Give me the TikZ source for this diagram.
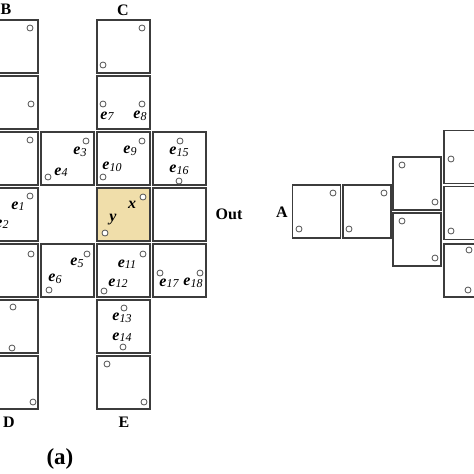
\documentclass[tikz,border=0pt]{standalone}
\usepackage{fontspec}
\setmainfont{Liberation Serif}
\definecolor{cellyellow}{RGB}{240,222,170}
\definecolor{edgegray}{RGB}{60,60,60}
\definecolor{dotgray}{RGB}{80,80,80}
\newcommand\elab[1]{{\bfseries\itshape e}\raisebox{-1.5pt}{\fontsize{12}{12}\selectfont\itshape #1}}
\tikzset{
  cell/.style={draw=edgegray, line width=1.2pt, fill=white, minimum width=53pt, minimum height=53pt, inner sep=0pt},
  rcell/.style={cell, minimum width=48pt},
  dotc/.style={circle, draw=dotgray, line width=0.8pt, fill=white, minimum size=6pt, inner sep=0pt},
  elbl/.style={inner sep=0pt, font=\fontsize{16}{16}\selectfont},
  biglbl/.style={inner sep=0pt, font=\fontsize{16}{16}\selectfont\bfseries},
}
\begin{document}
\begin{tikzpicture}[x=1pt,y=-1pt]
\useasboundingbox (0,0) rectangle (474,474);
\clip (0,0) rectangle (474,474);
% column 1 (B/D)
\node[cell] (b1) at (11.5,46.5) {};
\node[cell] (b2) at (11.5,102.5) {};
\node[cell] (b3) at (11.5,158.5) {};
\node[cell] (b4) at (11.5,214.5) {};
\node[cell] (b5) at (11.5,270.5) {};
\node[cell] (b6) at (11.5,326.5) {};
\node[cell] (b7) at (11.5,382.5) {};
% column 2
\node[cell] (m3) at (67.5,158.5) {};
\node[cell] (m5) at (67.5,270.5) {};
% column 3 (C/E)
\node[cell] (c1) at (123.5,46.5) {};
\node[cell] (c2) at (123.5,102.5) {};
\node[cell] (c3) at (123.5,158.5) {};
\node[cell, fill=cellyellow] (c4) at (123.5,214.5) {};
\node[cell] (c5) at (123.5,270.5) {};
\node[cell] (c6) at (123.5,326.5) {};
\node[cell] (c7) at (123.5,382.5) {};
% column 4
\node[cell] (r3) at (179.5,158.5) {};
\node[cell] (r4) at (179.5,214.5) {};
\node[cell] (r5) at (179.5,270.5) {};
% right figure
\node[rcell] (a1) at (316.5,211.5) {};
\node[rcell] (a2) at (367,211.5) {};
\node[rcell] (p1) at (417,183.5) {};
\node[rcell] (p2) at (417,239.5) {};
\node[rcell] (q1) at (468,157) {};
\node[rcell] (q2) at (468,213) {};
\node[rcell] (q3) at (468,270.5) {};
% labels
\node[biglbl] (lB) at (6,9) {B};
\node[biglbl] (lC) at (123,10) {C};
\node[biglbl] (lD) at (9,422) {D};
\node[biglbl] (lE) at (124,422) {E};
\node[biglbl] (lOut) at (229,214) {Out};
\node[biglbl] (lA) at (282,212) {A};
\node[inner sep=0pt, font=\fontsize{23}{23}\selectfont\bfseries] (la) at (60,459) {(a)};
% dots column 1
\node[dotc] (d1) at (30,28) {};
\node[dotc] (d2) at (31,104) {};
\node[dotc] (d3) at (30,140) {};
\node[dotc] (d4) at (30,196) {};
\node[dotc] (d5) at (31,254) {};
\node[dotc] (d6a) at (13,307) {};
\node[dotc] (d6b) at (12,348) {};
\node[dotc] (d7) at (33,402) {};
% dots column 2
\node[dotc] (dm3a) at (86,141) {};
\node[dotc] (dm3b) at (48,177) {};
\node[dotc] (dm5a) at (87,254) {};
\node[dotc] (dm5b) at (49,290) {};
% dots column 3
\node[dotc] (dc1a) at (142,28) {};
\node[dotc] (dc1b) at (103,65) {};
\node[dotc] (dc2a) at (103,104) {};
\node[dotc] (dc2b) at (142,104) {};
\node[dotc] (dc3a) at (142,141) {};
\node[dotc] (dc3b) at (103,177) {};
\node[dotc] (dc4a) at (143,197) {};
\node[dotc] (dc4b) at (105,233) {};
\node[dotc] (dc5a) at (143,254) {};
\node[dotc] (dc5b) at (104,291) {};
\node[dotc] (dc6a) at (124,308) {};
\node[dotc] (dc6b) at (123,347) {};
\node[dotc] (dc7a) at (107,364) {};
\node[dotc] (dc7b) at (144,402) {};
% dots column 4
\node[dotc] (dr3a) at (180,141) {};
\node[dotc] (dr3b) at (179,181) {};
\node[dotc] (dr5a) at (160,273) {};
\node[dotc] (dr5b) at (200,273) {};
% dots right figure
\node[dotc] (da1a) at (333,193) {};
\node[dotc] (da1b) at (299,229) {};
\node[dotc] (da2a) at (384,193) {};
\node[dotc] (da2b) at (349,229) {};
\node[dotc] (dp1a) at (402,165) {};
\node[dotc] (dp1b) at (435,202) {};
\node[dotc] (dp2a) at (402,221) {};
\node[dotc] (dp2b) at (435,258) {};
\node[dotc] (dq1) at (451,159) {};
\node[dotc] (dq2) at (451,231) {};
\node[dotc] (dq3a) at (469,250) {};
\node[dotc] (dq3b) at (468,290) {};
% e labels
\node[elbl] (e1) at (18,206) {\elab{1}};
\node[elbl] (e2) at (2,224) {\elab{2}};
\node[elbl] (e3) at (80,152) {\elab{3}};
\node[elbl] (e4) at (61,172) {\elab{4}};
\node[elbl] (e5) at (77,263) {\elab{5}};
\node[elbl] (e6) at (55,279) {\elab{6}};
\node[elbl] (e7) at (107,116) {\elab{7}};
\node[elbl] (e8) at (140,116) {\elab{8}};
\node[elbl] (e9) at (130,151) {\elab{9}};
\node[elbl] (e10) at (112,167) {\elab{10}};
\node[elbl] (e11) at (127,264) {\elab{11}};
\node[elbl] (e12) at (118,283) {\elab{12}};
\node[elbl] (e13) at (122,318) {\elab{13}};
\node[elbl] (e14) at (122,337) {\elab{14}};
\node[elbl] (e15) at (179,152) {\elab{15}};
\node[elbl] (e16) at (179,170) {\elab{16}};
\node[elbl] (e17) at (169,283) {\elab{17}};
\node[elbl] (e18) at (193,283) {\elab{18}};
\node[elbl, font=\fontsize{16}{16}\selectfont\bfseries\itshape] (lx) at (132,205) {x};
\node[elbl, font=\fontsize{16}{16}\selectfont\bfseries\itshape] (ly) at (113,220) {y};
\end{tikzpicture}
\end{document}
